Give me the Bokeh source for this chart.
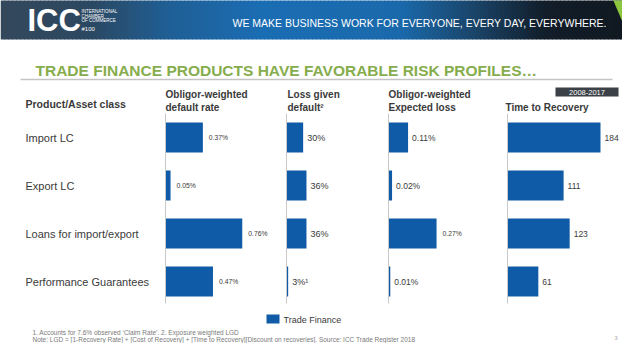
from bokeh.plotting import figure
from bokeh.models import Range1d, ColumnDataSource
from bokeh.core.properties import value
from bokeh.embed import file_html
from bokeh.resources import INLINE

# ---------------- data ----------------
products = ["Import LC", "Export LC", "Loans for import/export", "Performance Guarantees"]
default_rate = [0.37, 0.05, 0.76, 0.47]
default_rate_labels = ["0.37%", "0.05%", "0.76%", "0.47%"]
loss_given_default = [30, 36, 36, 3]
loss_given_default_labels = ["30%", "36%", "36%", "3%\u00b9"]
expected_loss = [0.11, 0.02, 0.27, 0.01]
expected_loss_labels = ["0.11%", "0.02%", "0.27%", "0.01%"]
time_to_recovery = [184, 111, 123, 61]
time_to_recovery_labels = ["184", "111", "123", "61"]
period = "2008-2017"
series_name = "Trade Finance"

# ---------------- style ----------------
FONT = value("Liberation Sans")
BLUE = "#0f5ba7"
TEXT = "#3a3a3a"
GREEN = "#86ad4d"

W, H = 622, 343
X0, X1 = 0, W          # picture pixels covered by the canvas
Y0, Y1 = 0, H
ROW_TOP, ROW_STEP = 137, 48

p = figure(width=W, height=H, x_range=Range1d(X0, X1), y_range=Range1d(Y1, Y0),
           output_backend="svg", toolbar_location=None, min_border=0,
           x_axis_location=None, y_axis_location=None, outline_line_color=None)
p.grid.visible = False
p.background_fill_color = "white"
p.border_fill_color = "white"

# row scale: category index -> vertical position
p.extra_y_ranges = {"rows": Range1d((Y1 - ROW_TOP) / ROW_STEP, (Y0 - ROW_TOP) / ROW_STEP)}


def txt(x, y, s, size, color=TEXT, bold=False, align="left", baseline="middle", **kw):
    p.text(x=[x], y=[y], text=[s], text_font=FONT, text_font_size=value(size),
           text_color=color, text_font_style="bold" if bold else "normal",
           text_align=align, text_baseline=baseline, **kw)


# ---------------- banner ----------------
stops = [(0, "#34485b"), (90, "#2b4862"), (170, "#1f5f96"), (260, "#1b6db3"),
         (400, "#1a69ab"), (470, "#1a466c"), (545, "#121d29"), (640, "#0f1820")]


def hex2rgb(h):
    return tuple(int(h[i:i + 2], 16) for i in (1, 3, 5))


def color_at(x):
    for (xa, ca), (xb, cb) in zip(stops, stops[1:]):
        if xa <= x <= xb:
            t = (x - xa) / (xb - xa)
            a, b = hex2rgb(ca), hex2rgb(cb)
            return "#%02x%02x%02x" % tuple(int(round(a[i] + (b[i] - a[i]) * t)) for i in range(3))
    return stops[-1][1]


lefts = list(range(0, 624, 4))
p.quad(left=lefts, right=[l + 4.5 for l in lefts], top=[-2] * len(lefts),
       bottom=[39] * len(lefts), color=[color_at(l + 2) for l in lefts], line_color=None)
p.patch(x=[612, 624, 624], y=[-2, -2, 26], color="#8cc63f", line_color=None)

txt(27, 20, "ICC", "31px", color="white", bold=True)
txt(81, 11, "INTERNATIONAL", "4.5px", color="white")
txt(81, 15.5, "CHAMBER", "4.5px", color="white")
txt(81, 20, "OF COMMERCE", "4.5px", color="white")
txt(81, 28, "#100", "6px", color="white")
txt(232, 22, "WE MAKE BUSINESS WORK FOR EVERYONE, EVERY DAY, EVERYWHERE.", "10.5px", color="white")

# ---------------- title ----------------
txt(35, 70, "TRADE FINANCE PRODUCTS HAVE FAVORABLE RISK PROFILES\u2026", "15.5px", color=GREEN, bold=True)
p.segment(x0=[20], y0=[79], x1=[612], y1=[79], line_color="#c4c4c4", line_width=1.5)

# period box
p.quad(left=[555], right=[618], top=[87], bottom=[96], color="#3b4147", line_color=None)
txt(586.5, 91.5, period, "7.5px", color="white", align="center")

# column headers
txt(25, 103, "Product/Asset class", "10.5px", bold=True)
txt(165, 94, "Obligor-weighted", "10px", bold=True)
txt(165, 107, "default rate", "10px", bold=True)
txt(287, 94, "Loss given", "10px", bold=True)
txt(287, 107, "default\u00b2", "10px", bold=True)
txt(388, 94, "Obligor-weighted", "10px", bold=True)
txt(388, 107, "Expected loss", "10px", bold=True)
txt(505, 107, "Time to Recovery", "10px", bold=True)

# row labels
rows = list(range(len(products)))
p.text(x=[25] * len(products), y=rows, text=products, y_range_name="rows",
       text_font=FONT, text_font_size=value("11px"), text_color=TEXT, text_baseline="middle")

# ---------------- panels ----------------
panels = [
    dict(name="dr", values=default_rate, labels=default_rate_labels, zero=165, px_per_unit=101.0,
         sizes=["6.8px"] * 4, gaps=[6, 6, 6, 6]),
    dict(name="lgd", values=loss_given_default, labels=loss_given_default_labels, zero=286,
         px_per_unit=0.555, sizes=["9px"] * 4, gaps=[4, 4, 4, 4]),
    dict(name="el", values=expected_loss, labels=expected_loss_labels, zero=388, px_per_unit=178.0,
         sizes=["8.5px", "8.5px", "6.8px", "8.5px"], gaps=[4, 4, 6, 4]),
    dict(name="ttr", values=time_to_recovery, labels=time_to_recovery_labels, zero=507,
         px_per_unit=0.5054, sizes=["8.5px"] * 4, gaps=[4, 4, 4, 4]),
]

for pn in panels:
    nm = pn["name"]
    p.extra_x_ranges[nm] = Range1d((X0 - pn["zero"]) / pn["px_per_unit"],
                                   (X1 - pn["zero"]) / pn["px_per_unit"])
    src = ColumnDataSource(dict(y=rows, v=pn["values"], lab=pn["labels"],
                                fs=pn["sizes"], gap=pn["gaps"]))
    p.hbar(y="y", left=0, right="v", height=0.625, source=src, color=BLUE, line_color=None,
           x_range_name=nm, y_range_name="rows")
    p.segment(x0=[0], x1=[0], y0=[(113 - ROW_TOP) / ROW_STEP], y1=[(303 - ROW_TOP) / ROW_STEP],
              line_color="#c9c9c9", line_width=1, x_range_name=nm, y_range_name="rows")
    p.text(x="v", y="y", text="lab", x_offset="gap", source=src, x_range_name=nm, y_range_name="rows",
           text_font=FONT, text_font_size="fs", text_color=TEXT, text_baseline="middle")

# ---------------- legend & notes ----------------
p.quad(left=[266], right=[279], top=[314], bottom=[323], color=BLUE, line_color=None)
txt(283, 319, series_name, "9px")
txt(32, 332, "1. Accounts for 7.6% observed \u2018Claim Rate\u2019. 2. Exposure weighted LGD", "6.5px", color="#7a7a7a")
txt(32, 339, "Note: LGD = [1-Recovery Rate] + [Cost of Recovery] + [Time to Recovery][Discount on recoveries]. "
             "Source: ICC Trade Register 2018", "6.5px", color="#7a7a7a")
txt(614, 337, "3", "5.5px", color="#a0a0a0")

open("out.html", "w").write(file_html(p, INLINE))
